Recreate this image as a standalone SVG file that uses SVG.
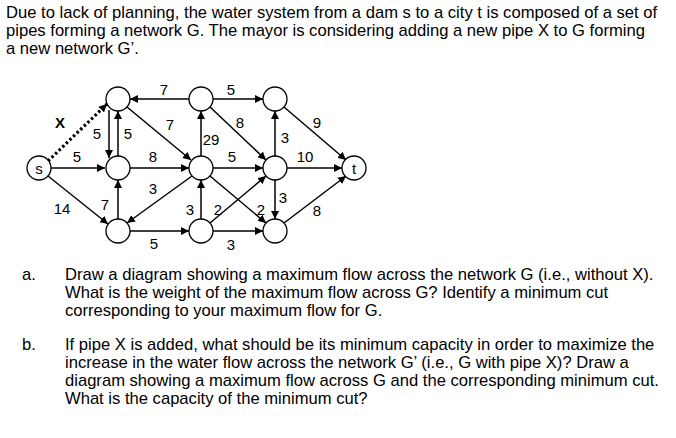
<svg xmlns="http://www.w3.org/2000/svg" width="676" height="438" viewBox="0 0 676 438">
<style>
.t{font-family:"Liberation Sans",Arial,sans-serif;font-size:16.6px;fill:#000}
.l{font-family:"Liberation Sans",Arial,sans-serif;font-size:15px;fill:#000;text-anchor:middle;dominant-baseline:central}
.n{fill:#fff;stroke:#000;stroke-width:1.3}
.e{stroke:#000;stroke-width:1.5;fill:none;marker-end:url(#a)}
</style>
<defs><marker id="a" viewBox="0 0 10 10" refX="10" refY="5" markerWidth="8" markerHeight="8" orient="auto" markerUnits="userSpaceOnUse"><path d="M0,0L10,5L0,10z" fill="#000"/></marker></defs>
<rect width="676" height="438" fill="#fff"/>
<text class="t" x="6" y="18">Due to lack of planning, the water system from a dam s to a city t is composed of a set of</text>
<text class="t" x="6" y="36">pipes forming a network G.  The mayor is considering adding a new pipe X to G forming</text>
<text class="t" x="6" y="54">a new network G’.</text>
<g id="connectors">
<line class="e" x1="48" y1="161" x2="107" y2="104" style="stroke-dasharray:2.5,2.5;stroke-width:3.2"/>
<line class="e" x1="51" y1="168" x2="105" y2="168"/>
<line class="e" x1="48" y1="176" x2="108" y2="224"/>
<line class="e" x1="109" y1="110" x2="109" y2="158"/>
<line class="e" x1="118" y1="156" x2="118" y2="111"/>
<line class="e" x1="189" y1="99" x2="130" y2="99"/>
<line class="e" x1="213" y1="99" x2="263" y2="99"/>
<line class="e" x1="127" y1="107" x2="191" y2="160"/>
<line class="e" x1="210" y1="107" x2="266" y2="160"/>
<line class="e" x1="201" y1="156" x2="201" y2="111"/>
<line class="e" x1="130" y1="168" x2="189" y2="168"/>
<line class="e" x1="213" y1="168" x2="263" y2="168"/>
<line class="e" x1="192" y1="176" x2="127" y2="223"/>
<line class="e" x1="210" y1="176" x2="266" y2="223"/>
<line class="e" x1="118" y1="219" x2="118" y2="180"/>
<line class="e" x1="130" y1="231" x2="189" y2="231"/>
<line class="e" x1="201" y1="219" x2="201" y2="180"/>
<line class="e" x1="210" y1="223" x2="266" y2="176"/>
<line class="e" x1="213" y1="231" x2="263" y2="231"/>
<line class="e" x1="275" y1="156" x2="275" y2="111"/>
<line class="e" x1="275" y1="180" x2="275" y2="219"/>
<line class="e" x1="284" y1="107" x2="346" y2="160"/>
<line class="e" x1="287" y1="168" x2="342" y2="168"/>
<line class="e" x1="284" y1="223" x2="346" y2="176"/>
</g>
<g id="nodes">
<g id="s"><circle class="n" cx="39" cy="168" r="12"/><text class="l" x="39" y="168">s</text></g>
<g id="a1"><circle class="n" cx="118" cy="99" r="12"/></g>
<g id="b1"><circle class="n" cx="118" cy="168" r="12"/></g>
<g id="c1"><circle class="n" cx="118" cy="231" r="12"/></g>
<g id="a2"><circle class="n" cx="201" cy="99" r="12"/></g>
<g id="b2"><circle class="n" cx="201" cy="168" r="12"/></g>
<g id="c2"><circle class="n" cx="201" cy="231" r="12"/></g>
<g id="a3"><circle class="n" cx="275" cy="99" r="12"/></g>
<g id="b3"><circle class="n" cx="275" cy="168" r="12"/></g>
<g id="c3"><circle class="n" cx="275" cy="231" r="12"/></g>
<g id="t"><circle class="n" cx="354" cy="168" r="12"/><text class="l" x="354" y="168">t</text></g>
</g>
<g id="labels">
<text class="l" x="164" y="89">7</text><text class="l" x="231" y="89">5</text>
<text class="l" x="60" y="122" font-weight="bold">X</text>
<text class="l" x="97" y="133">5</text><text class="l" x="128" y="133">5</text>
<text class="l" x="170" y="124">7</text><text class="l" x="211" y="139">29</text>
<text class="l" x="240" y="122">8</text><text class="l" x="285" y="137">3</text>
<text class="l" x="317" y="122">9</text>
<text class="l" x="77" y="156">5</text><text class="l" x="153" y="156">8</text>
<text class="l" x="232" y="156">5</text><text class="l" x="305" y="156">10</text>
<text class="l" x="153" y="188">3</text><text class="l" x="62" y="208">14</text>
<text class="l" x="105" y="204">7</text><text class="l" x="190" y="209">3</text>
<text class="l" x="218" y="209">2</text><text class="l" x="261" y="209">2</text>
<text class="l" x="283" y="197">3</text><text class="l" x="317" y="210">8</text>
<text class="l" x="154" y="243">5</text><text class="l" x="231" y="244">3</text>
</g>
<text class="t" x="22" y="280">a.</text>
<text class="t" x="65" y="280">Draw a diagram showing a maximum flow across the network G (i.e., without X).</text>
<text class="t" x="65" y="298">What is the weight of the maximum flow across G?   Identify a minimum cut</text>
<text class="t" x="65" y="316">corresponding to your maximum flow for G.</text>
<text class="t" x="22" y="350">b.</text>
<text class="t" x="65" y="350">If pipe X is added, what should be its minimum capacity in order to maximize the</text>
<text class="t" x="65" y="368">increase in the water flow across the network G’ (i.e., G with pipe X)?  Draw a</text>
<text class="t" x="65" y="386">diagram showing a maximum flow across G and the corresponding minimum cut.</text>
<text class="t" x="65" y="404">What is the capacity of the minimum cut?</text>
</svg>
